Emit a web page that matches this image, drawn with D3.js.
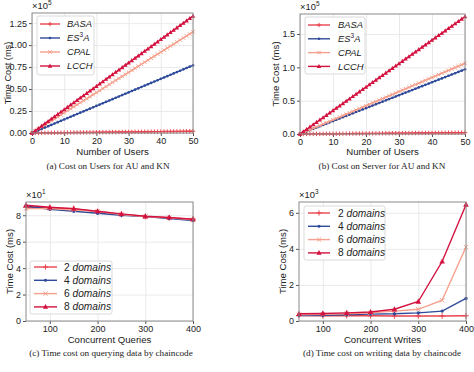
<!DOCTYPE html>
<html>
<head>
<meta charset="utf-8">
<script src="https://cdn.jsdelivr.net/npm/d3@7"></script>
<style>
body { margin: 0; background: #fff; }
text { font-family: "Liberation Sans", Arial, sans-serif; fill: #222; }
.caption { font-family: "Liberation Serif", "Times New Roman", serif; font-size: 9.2px; }
.grid line { stroke: #e4e4e4; stroke-width: 0.8; }
.grid path { display: none; }
.axis path { display: none; }
.axis line { stroke: #555; }
.axis text { font-size: 9px; }
</style>
</head>
<body>
<div id="chart"></div>
<script>
// ---- data ----
var users = [0,1,2,3,4,5,6,7,8,9,10,11,12,13,14,15,16,17,18,19,20,21,22,23,24,25,26,27,28,29,30,31,32,33,34,35,36,37,38,39,40,41,42,43,44,45,46,47,48,49,50];

// (a) cost on users, ms
var userBASA = [0,40,80,120,160,200,240,280,320,360,400,440,480,520,560,600,640,680,720,760,800,840,880,920,960,1000,1040,1080,1120,1160,1200,1240,1280,1320,1360,1400,1440,1480,1520,1560,1600,1640,1680,1720,1760,1800,1840,1880,1920,1960,2000];
var userES3A = [0,1540,3080,4620,6160,7700,9240,10780,12320,13860,15400,16940,18480,20020,21560,23100,24640,26180,27720,29260,30800,32340,33880,35420,36960,38500,40040,41580,43120,44660,46200,47740,49280,50820,52360,53900,55440,56980,58520,60060,61600,63140,64680,66220,67760,69300,70840,72380,73920,75460,77000];
var userCPAL = [0,2300,4600,6900,9200,11500,13800,16100,18400,20700,23000,25300,27600,29900,32200,34500,36800,39100,41400,43700,46000,48300,50600,52900,55200,57500,59800,62100,64400,66700,69000,71300,73600,75900,78200,80500,82800,85100,87400,89700,92000,94300,96600,98900,101200,103500,105800,108100,110400,112700,115000];
var userLCCH = [0,2660,5320,7980,10640,13300,15960,18620,21280,23940,26600,29260,31920,34580,37240,39900,42560,45220,47880,50540,53200,55860,58520,61180,63840,66500,69160,71820,74480,77140,79800,82460,85120,87780,90440,93100,95760,98420,101080,103740,106400,109060,111720,114380,117040,119700,122360,125020,127680,130340,133000];

// (b) cost on server, ms
var serverBASA = [0,40,80,120,160,200,240,280,320,360,400,440,480,520,560,600,640,680,720,760,800,840,880,920,960,1000,1040,1080,1120,1160,1200,1240,1280,1320,1360,1400,1440,1480,1520,1560,1600,1640,1680,1720,1760,1800,1840,1880,1920,1960,2000];
var serverES3A = [0,1940,3880,5820,7760,9700,11640,13580,15520,17460,19400,21340,23280,25220,27160,29100,31040,32980,34920,36860,38800,40740,42680,44620,46560,48500,50440,52380,54320,56260,58200,60140,62080,64020,65960,67900,69840,71780,73720,75660,77600,79540,81480,83420,85360,87300,89240,91180,93120,95060,97000];
var serverCPAL = [0,2120,4240,6360,8480,10600,12720,14840,16960,19080,21200,23320,25440,27560,29680,31800,33920,36040,38160,40280,42400,44520,46640,48760,50880,53000,55120,57240,59360,61480,63600,65720,67840,69960,72080,74200,76320,78440,80560,82680,84800,86920,89040,91160,93280,95400,97520,99640,101760,103880,106000];
var serverLCCH = [0,3520,7040,10560,14080,17600,21120,24640,28160,31680,35200,38720,42240,45760,49280,52800,56320,59840,63360,66880,70400,73920,77440,80960,84480,88000,91520,95040,98560,102080,105600,109120,112640,116160,119680,123200,126720,130240,133760,137280,140800,144320,147840,151360,154880,158400,161920,165440,168960,172480,176000];

// (c) querying, (d) writing
var concurrency = [50,100,150,200,250,300,350,400];
var query2 = [86, 85.5, 85, 82.5, 80.5, 79, 78, 77];
var query4 = [87, 84.5, 83, 81.5, 80, 79, 77.5, 76];
var query6 = [85, 85, 84, 83, 80.5, 79, 78, 76.5];
var query8 = [87.5, 86, 85, 83, 81, 79.2, 78.3, 77];
var write2 = [300, 290, 290, 290, 280, 280, 280, 290];
var write4 = [300, 320, 350, 380, 400, 450, 550, 1250];
var write6 = [350, 370, 400, 450, 550, 650, 1150, 4100];
var write8 = [400, 420, 450, 500, 650, 1080, 3300, 6450];

var schemeNames = ["BASA", "ES3A", "CPAL", "LCCH"];
var domainNames = ["2", "4", "6", "8"];

// ticks
var userTicks = [0, 10, 20, 30, 40, 50];
var aYTicks = [0, 25000, 50000, 75000, 100000, 125000];
var bYTicks = [0, 50000, 100000, 150000];
var concTicks = [100, 200, 300, 400];
var cYTicks = [0, 20, 40, 60, 80];
var dYTicks = [0, 2000, 4000, 6000];

var colors = ["#e8444f", "#2e4a9a", "#f5a08c", "#d3123f"];
var shapes = ["plus", "dot", "cross", "tri"];

var svg = d3.select("#chart").append("svg")
    .attr("width", 474)
    .attr("height", 372);

function drawMarker(g, shape, color, s) {
    if (shape == "plus") {
        g.append("path").attr("d", "M" + (-s) + ",0H" + s + "M0," + (-s) + "V" + s)
            .attr("stroke", color).attr("stroke-width", 1).attr("fill", "none");
    } else if (shape == "dot") {
        g.append("circle").attr("r", s * 0.6).attr("fill", color);
    } else if (shape == "cross") {
        var k = s * 0.8;
        g.append("path").attr("d", "M" + (-k) + "," + (-k) + "L" + k + "," + k + "M" + (-k) + "," + k + "L" + k + "," + (-k))
            .attr("stroke", color).attr("stroke-width", 1).attr("fill", "none");
    } else {
        g.append("path").attr("d", "M0," + (-s * 1.1) + "L" + s + "," + (s * 0.75) + "L" + (-s) + "," + (s * 0.75) + "Z")
            .attr("fill", color);
    }
}

function drawPanel(p) {
    var w = p.right - p.left, h = p.bottom - p.top;
    var g = svg.append("g").attr("transform", "translate(" + p.left + "," + p.top + ")");

    var x = d3.scaleLinear().domain(p.xDomain).range([0, w]);
    var y = d3.scaleLinear().domain(p.yDomain).range([h, 0]);

    // gridlines
    g.append("g").attr("class", "grid")
        .attr("transform", "translate(0," + h + ")")
        .call(d3.axisBottom(x).tickValues(p.xTicks).tickSize(-h).tickFormat(""));
    g.append("g").attr("class", "grid")
        .call(d3.axisLeft(y).tickValues(p.yTicks).tickSize(-w).tickFormat(""));

    // axes
    g.append("g").attr("class", "axis")
        .attr("transform", "translate(0," + h + ")")
        .call(d3.axisBottom(x).tickValues(p.xTicks).tickSize(3).tickPadding(2));
    g.append("g").attr("class", "axis")
        .call(d3.axisLeft(y).tickValues(p.yTicks).tickSize(3).tickPadding(2).tickFormat(p.yFormat));

    var clipId = "clip" + p.id;
    g.append("clipPath").attr("id", clipId)
        .append("rect").attr("x", -3).attr("y", -3).attr("width", w + 6).attr("height", h + 6);

    var plot = g.append("g").attr("clip-path", "url(#" + clipId + ")");
    var line = d3.line().x(function (d) { return x(d[0]); }).y(function (d) { return y(d[1]); });

    p.series.forEach(function (vals, i) {
        var pts = p.xs.map(function (v, j) { return [v, vals[j]]; });
        plot.append("path").datum(pts)
            .attr("d", line)
            .attr("fill", "none")
            .attr("stroke", colors[i])
            .attr("stroke-width", p.lw);
        pts.forEach(function (d) {
            var m = plot.append("g").attr("transform", "translate(" + x(d[0]) + "," + y(d[1]) + ")");
            drawMarker(m, shapes[i], colors[i], p.ms);
        });
    });

    // frame
    g.append("rect").attr("width", w).attr("height", h)
        .attr("fill", "none").attr("stroke", "#8a8a8a").attr("stroke-width", 1);

    // exponent label
    var ex = g.append("text").attr("x", 0).attr("y", -4).style("font-size", "9.4px");
    ex.append("tspan").text("\u00d710");
    ex.append("tspan").attr("dy", -4).style("font-size", "6.5px").text(p.exp);

    // axis titles
    g.append("text").attr("x", w / 2).attr("y", h + p.xlabelDy)
        .attr("text-anchor", "middle").style("font-size", "9.6px").text(p.xlabel);
    g.append("text")
        .attr("transform", "translate(" + p.ylabelX + "," + (h / 2) + ") rotate(-90)")
        .attr("text-anchor", "middle").style("font-size", p.ylabelFs + "px").text("Time Cost (ms)");

    // legend
    var L = p.legend;
    var lg = g.append("g").attr("transform", "translate(" + L.x + "," + L.y + ")");
    lg.append("rect").attr("width", L.w).attr("height", L.h).attr("rx", 2)
        .attr("fill", "#fff").attr("fill-opacity", 0.85)
        .attr("stroke", "#d0d0d0").attr("stroke-width", 0.8);
    p.names.forEach(function (name, i) {
        var ry = L.row0 + i * L.step;
        lg.append("line").attr("x1", L.lx0).attr("x2", L.lx1).attr("y1", ry).attr("y2", ry)
            .attr("stroke", colors[i]).attr("stroke-width", p.lw);
        var m = lg.append("g").attr("transform", "translate(" + ((L.lx0 + L.lx1) / 2) + "," + ry + ")");
        drawMarker(m, shapes[i], colors[i], p.legendMs);
        var t = lg.append("text").attr("x", L.tx).attr("y", ry).attr("dy", "0.35em")
            .style("font-size", L.fs + "px");
        if (p.kind == "scheme") {
            t.style("font-style", "italic");
            if (name == "ES3A") {
                t.append("tspan").text("ES");
                t.append("tspan").attr("dy", -4).style("font-size", "6.5px").style("font-style", "normal").text("3");
                t.append("tspan").attr("dy", 4).text("A");
            } else {
                t.text(name);
            }
        } else {
            t.append("tspan").text(name + " ");
            t.append("tspan").style("font-style", "italic").text("domains");
        }
    });

    // caption
    svg.append("text").attr("class", "caption")
        .attr("x", p.capX).attr("y", p.capY)
        .attr("text-anchor", "middle").text(p.caption);
}

var fmt2 = function (d) { return (d / 1e5).toFixed(2); };
var fmt1 = function (d) { return (d / 1e5).toFixed(1); };
var fmtC = function (d) { return String(d / 10); };
var fmtD = function (d) { return String(d / 1000); };

drawPanel({
    id: "a", kind: "scheme", left: 32, right: 193, top: 13, bottom: 133,
    xs: users, series: [userBASA, userES3A, userCPAL, userLCCH], names: schemeNames,
    xDomain: [0, 50], yDomain: [0, 136500], xTicks: userTicks, yTicks: aYTicks, yFormat: fmt2,
    exp: "5", xlabel: "Number of Users", xlabelDy: 22, ylabelX: -21.5, ylabelFs: 9.2,
    lw: 1.4, ms: 2.2, legendMs: 2.2,
    legend: { x: 5, y: 3, w: 57, h: 59, row0: 8, step: 14, lx0: 3, lx1: 23, tx: 30, fs: 9.4 },
    caption: "(a) Cost on Users for AU and KN", capX: 108, capY: 169
});

drawPanel({
    id: "b", kind: "scheme", left: 300, right: 465, top: 14, bottom: 134,
    xs: users, series: [serverBASA, serverES3A, serverCPAL, serverLCCH], names: schemeNames,
    xDomain: [0, 50], yDomain: [0, 180000], xTicks: userTicks, yTicks: bYTicks, yFormat: fmt1,
    exp: "5", xlabel: "Number of Users", xlabelDy: 21, ylabelX: -21, ylabelFs: 9.6,
    lw: 1.4, ms: 2.2, legendMs: 2.2,
    legend: { x: 5, y: 3, w: 60, h: 57, row0: 8, step: 13.8, lx0: 3, lx1: 25, tx: 33, fs: 9.4 },
    caption: "(b) Cost on Server for AU and KN", capX: 382, capY: 169
});

drawPanel({
    id: "c", kind: "domain", left: 26, right: 193, top: 202, bottom: 321,
    xs: concurrency, series: [query2, query4, query6, query8], names: domainNames,
    xDomain: [50, 400], yDomain: [0, 90], xTicks: concTicks, yTicks: cYTicks, yFormat: fmtC,
    exp: "1", xlabel: "Concurrent Queries", xlabelDy: 22, ylabelX: -13, ylabelFs: 9.6,
    lw: 1.4, ms: 2.8, legendMs: 2.6,
    legend: { x: 4, y: 59, w: 82, h: 53, row0: 6, step: 13.3, lx0: 4, lx1: 27, tx: 34, fs: 10.2 },
    caption: "(c) Time cost on querying data by chaincode", capX: 111, capY: 356
});

drawPanel({
    id: "d", kind: "domain", left: 299, right: 466, top: 202, bottom: 321,
    xs: concurrency, series: [write2, write4, write6, write8], names: domainNames,
    xDomain: [50, 400], yDomain: [0, 6600], xTicks: concTicks, yTicks: dYTicks, yFormat: fmtD,
    exp: "3", xlabel: "Concurrent Writes", xlabelDy: 22, ylabelX: -13, ylabelFs: 9.6,
    lw: 1.4, ms: 2.8, legendMs: 2.6,
    legend: { x: 5, y: 4, w: 81, h: 54, row0: 7, step: 13.3, lx0: 4, lx1: 26, tx: 34, fs: 10.2 },
    caption: "(d) Time cost on writing data by chaincode", capX: 382, capY: 356
});
</script>
</body>
</html>
